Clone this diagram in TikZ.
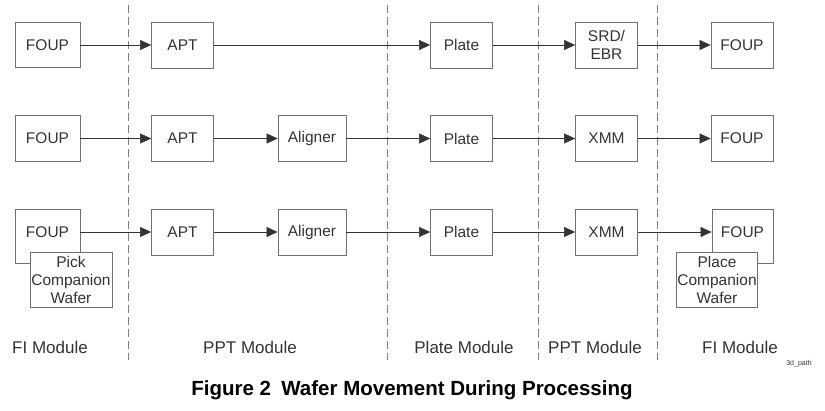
\documentclass[tikz,border=0pt]{standalone}
\usepackage{fontspec}
\setmainfont{Liberation Sans}
\usetikzlibrary{arrows.meta}
\definecolor{boxgray}{HTML}{707070}
\definecolor{txtgray}{HTML}{333333}
\tikzset{
  box/.style={draw=boxgray, thick, minimum width=62pt, minimum height=46pt, inner sep=1pt},
  flow/.style={draw=txtgray, -{Triangle[length=11pt,width=10pt]}},
  modsep/.style={draw=gray, dash pattern=on 8pt off 4pt},
  modlabel/.style={font=\fontsize{17}{19}\selectfont}
}
\begin{document}
\begin{tikzpicture}[x=1pt, y=-1pt, every node/.style={font=\fontsize{15.5}{18}\selectfont, text=txtgray}]
\useasboundingbox (0,0) rectangle (825,410);

% ---- module separators ----
\foreach \x in {128,387,538,657} {
  \draw[modsep] (\x,5) -- (\x,360);
}

% ---- row 1 ----
\node[box, minimum width=65pt, minimum height=45pt] (foupA) at (47.5,45) {FOUP};
\node[box] (aptA) at (182.5,45) {APT};
\node[box] (plateA) at (461.5,45) {Plate};
\node[box, align=center] (srdA) at (606.5,45) {SRD/\\EBR};
\node[box] (foupB) at (742,45) {FOUP};
\draw[flow] (foupA) -- (aptA);
\draw[flow] (aptA) -- (plateA);
\draw[flow] (plateA) -- (srdA);
\draw[flow] (srdA) -- (foupB);

% ---- row 2 ----
\node[box, minimum width=65pt] (foupC) at (47.5,138.5) {FOUP};
\node[box] (aptB) at (182.5,138.5) {APT};
\node[box, minimum width=68pt] (alignB) at (312,138.5) {Aligner};
\node[box] (plateB) at (461.5,138.5) {Plate};
\node[box] (xmmB) at (606.5,138.5) {XMM};
\node[box] (foupD) at (742,138.5) {FOUP};
\draw[flow] (foupC) -- (aptB);
\draw[flow] (aptB) -- (alignB);
\draw[flow] (alignB) -- (plateB);
\draw[flow] (plateB) -- (xmmB);
\draw[flow] (xmmB) -- (foupD);

% ---- row 3 ----
\node[box, minimum width=65pt, minimum height=54pt, label={[yshift=4pt]center:FOUP}] (foupE) at (47.5,236) {};
\node[box] (aptC) at (182.5,232) {APT};
\node[box, minimum width=68pt] (alignC) at (312,232) {Aligner};
\node[box] (plateC) at (461.5,232) {Plate};
\node[box] (xmmC) at (606.5,232) {XMM};
\node[box, minimum width=61pt, minimum height=54pt, label={[yshift=4pt]center:FOUP}] (foupF) at (742.5,236) {};
\node[box, fill=white, align=center, minimum width=82pt, minimum height=55pt] (pick) at (71,279.5) {Pick\\Companion\\Wafer};
\node[box, fill=white, align=center, minimum width=80pt, minimum height=55pt] (place) at (717,279.5) {Place\\Companion\\Wafer};
\draw[flow] (foupE.east |- aptC) -- (aptC);
\draw[flow] (aptC) -- (alignC);
\draw[flow] (alignC) -- (plateC);
\draw[flow] (plateC) -- (xmmC);
\draw[flow] (xmmC) -- (xmmC -| foupF.west);

% ---- module names ----
\node[modlabel] (fiL) at (50,347) {FI Module};
\node[modlabel] (pptL) at (250,347) {PPT Module};
\node[modlabel] (plateL) at (464,347) {Plate Module};
\node[modlabel] (pptR) at (595,347) {PPT Module};
\node[modlabel] (fiR) at (740,347) {FI Module};
\node[font=\fontsize{7}{8}\selectfont] (tag) at (799,364) {3d\_path};

% ---- caption ----
\node[font=\fontsize{20.5}{24}\bfseries\selectfont, text=black] (cap) at (412,390) {Figure 2\hspace{0.5em}Wafer Movement During Processing};
\end{tikzpicture}
\end{document}
